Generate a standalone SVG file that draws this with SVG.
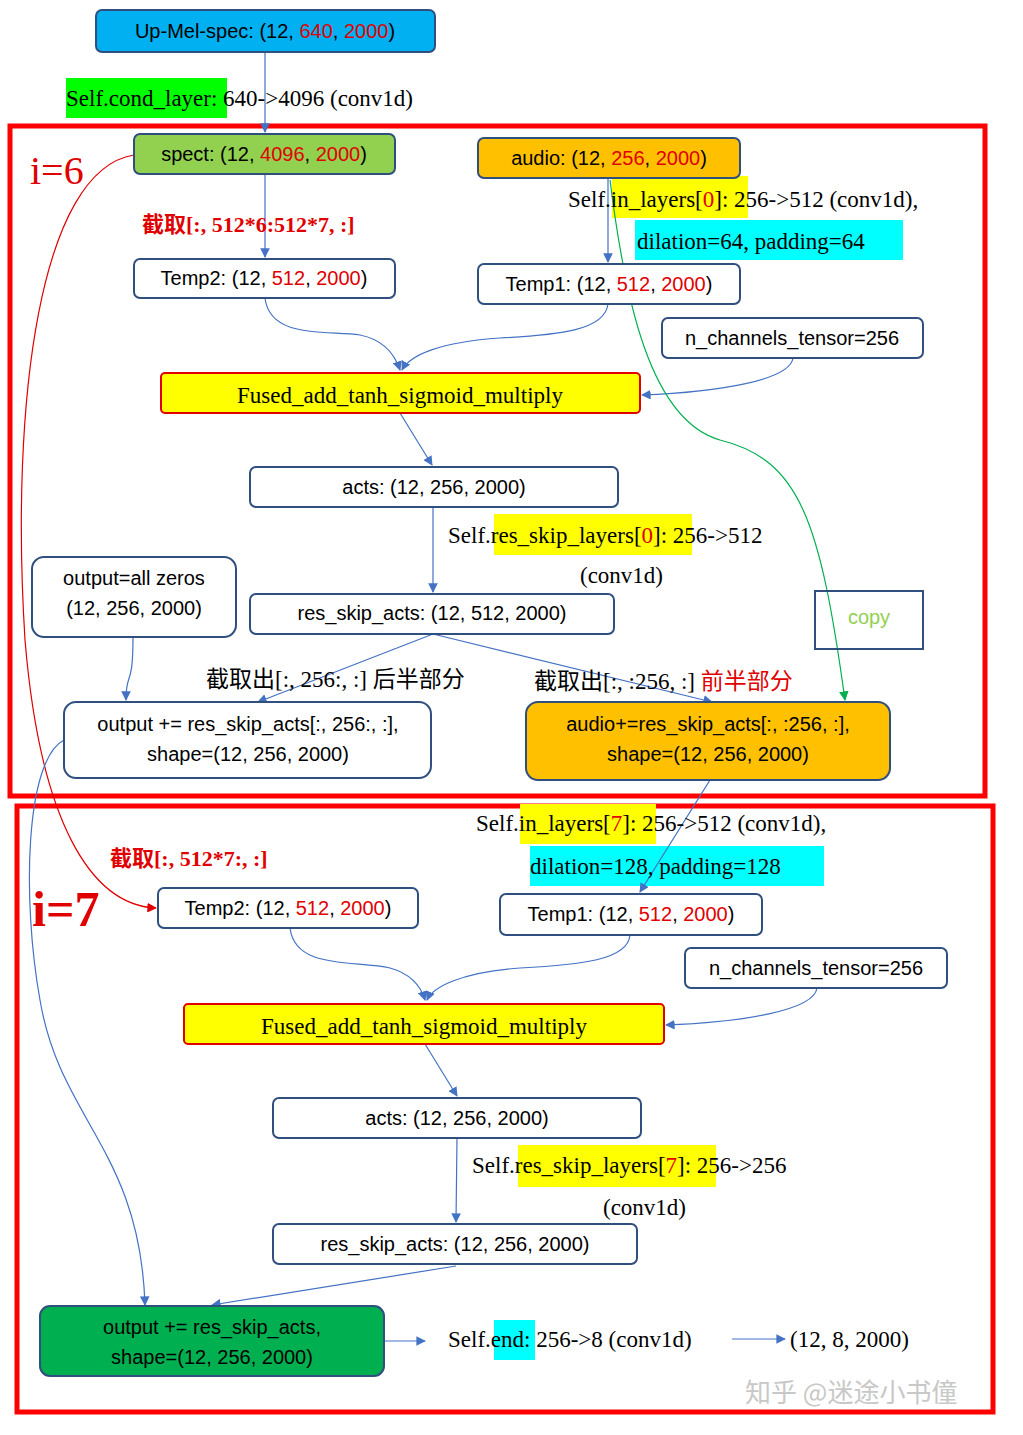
<svg xmlns="http://www.w3.org/2000/svg" width="1023" height="1435" viewBox="0 0 1023 1435">
<style>
.n{stroke:#2F4F7F;stroke-width:2}
.t{font-family:"Liberation Sans Narrow","Liberation Sans",sans-serif;font-size:20px;fill:#000;text-anchor:middle}
.s{font-family:"Liberation Serif","Noto Sans CJK SC",serif;font-size:23px;fill:#000}
.r{fill:#E00000}
.c{fill:none;stroke:#4472C4;stroke-width:1.2}
.frame{fill:none;stroke:#F00;stroke-width:5}
</style>
<defs>
<marker id="a" viewBox="0 0 10 10" refX="9" refY="5" markerWidth="8" markerHeight="8" orient="auto"><path d="M0,0L10,5L0,10z" fill="#4472C4"/></marker>
<marker id="g" viewBox="0 0 10 10" refX="9" refY="5" markerWidth="8" markerHeight="8" orient="auto"><path d="M0,0L10,5L0,10z" fill="#00B050"/></marker>
<marker id="rd" viewBox="0 0 10 10" refX="9" refY="5" markerWidth="8" markerHeight="8" orient="auto"><path d="M0,0L10,5L0,10z" fill="#E00000"/></marker>
</defs>
<rect width="1023" height="1435" fill="#fff"/>
<rect class="frame" x="10" y="126" width="975" height="670"/>
<rect class="frame" x="17" y="806" width="976" height="606"/>
<!-- highlights -->
<rect x="66" y="78" width="161" height="40" fill="#00FF00"/>
<rect x="612" y="176" width="136" height="42" fill="#FFFF00"/>
<rect x="635" y="220" width="268" height="40" fill="#00FFFF"/>
<rect x="494" y="514" width="198" height="41" fill="#FFFF00"/>
<rect x="520" y="804" width="136" height="40" fill="#FFFF00"/>
<rect x="530" y="846" width="294" height="40" fill="#00FFFF"/>
<rect x="518" y="1145" width="198" height="42" fill="#FFFF00"/>
<rect x="494" y="1320" width="41" height="40" fill="#00FFFF"/>
<g id="connectors">
<path class="c" d="M265,52V132" marker-end="url(#a)"/>
<path class="c" d="M265,174V257" marker-end="url(#a)"/>
<path class="c" d="M608,178V262" marker-end="url(#a)"/>
<path class="c" d="M265,298C270,340 330,330 360,335C385,340 395,355 400,370" marker-end="url(#a)"/>
<path class="c" d="M608,304C605,330 560,335 500,338C440,342 410,355 402,370" marker-end="url(#a)"/>
<path class="c" d="M793,358C790,380 720,392 642,395" marker-end="url(#a)"/>
<path class="c" d="M400,413L432,465" marker-end="url(#a)"/>
<path class="c" d="M433,507V592" marker-end="url(#a)"/>
<path class="c" d="M433,634L258,702" marker-end="url(#a)"/>
<path class="c" d="M433,634L712,702" marker-end="url(#a)"/>
<path class="c" d="M133,637C133,690 126,670 126,700" marker-end="url(#a)"/>
<path d="M610,180C625,300 650,420 720,440C800,460 820,520 845,700" fill="none" stroke="#00B050" stroke-width="1.2" marker-end="url(#g)"/>
<path d="M134,155C40,170 10,400 25,640C40,820 90,905 156,908" fill="none" stroke="#E00000" stroke-width="1.2" marker-end="url(#rd)"/>
<path class="c" d="M64,740C25,760 22,900 40,1000C60,1120 140,1150 145,1305" marker-end="url(#a)"/>
<path class="c" d="M710,780L640,892" marker-end="url(#a)"/>
<path class="c" d="M290,928C295,970 355,960 390,968C415,975 422,990 425,1000" marker-end="url(#a)"/>
<path class="c" d="M630,935C628,960 580,965 520,968C460,972 432,988 427,1000" marker-end="url(#a)"/>
<path class="c" d="M817,988C814,1010 745,1022 666,1025" marker-end="url(#a)"/>
<path class="c" d="M425,1044L457,1096" marker-end="url(#a)"/>
<path class="c" d="M457,1138L456,1222" marker-end="url(#a)"/>
<path class="c" d="M456,1266L212,1305" marker-end="url(#a)"/>
<path class="c" d="M384,1341H425" marker-end="url(#a)"/>
<path class="c" d="M732,1339H785" marker-end="url(#a)"/>
</g>
<g id="upmel"><rect class="n" x="96" y="10" width="339" height="42" rx="6" fill="#00B0F0"/><text class="t" x="265" y="38">Up-Mel-spec: (12, <tspan class="r">640</tspan>, <tspan class="r">2000</tspan>)</text></g>
<g id="spect"><rect class="n" x="134" y="134" width="261" height="40" rx="6" fill="#92D050"/><text class="t" x="264" y="161">spect: (12, <tspan class="r">4096</tspan>, <tspan class="r">2000</tspan>)</text></g>
<g id="audio"><rect class="n" x="478" y="138" width="262" height="40" rx="6" fill="#FFC000"/><text class="t" x="609" y="165">audio: (12, <tspan class="r">256</tspan>, <tspan class="r">2000</tspan>)</text></g>
<g id="temp2a"><rect class="n" x="134" y="259" width="261" height="39" rx="6" fill="#fff"/><text class="t" x="264" y="285">Temp2: (12, <tspan class="r">512</tspan>, <tspan class="r">2000</tspan>)</text></g>
<g id="temp1a"><rect class="n" x="478" y="264" width="262" height="40" rx="6" fill="#fff"/><text class="t" x="609" y="291">Temp1: (12, <tspan class="r">512</tspan>, <tspan class="r">2000</tspan>)</text></g>
<g id="ncha"><rect class="n" x="662" y="318" width="261" height="40" rx="6" fill="#fff"/><text class="t" x="792" y="345">n_channels_tensor=256</text></g>
<g id="fuseda"><rect x="161" y="373" width="479" height="40" rx="4" fill="#FFFF00" stroke="#E00000" stroke-width="2"/><text class="s" x="400" y="403" text-anchor="middle">Fused_add_tanh_sigmoid_multiply</text></g>
<g id="actsa"><rect class="n" x="250" y="467" width="368" height="40" rx="6" fill="#fff"/><text class="t" x="434" y="494">acts: (12, 256, 2000)</text></g>
<g id="zeros"><rect class="n" x="32" y="557" width="204" height="80" rx="12" fill="#fff"/><text class="t" x="134" y="585">output=all zeros</text><text class="t" x="134" y="615">(12, 256, 2000)</text></g>
<g id="rsa"><rect class="n" x="250" y="594" width="364" height="40" rx="6" fill="#fff"/><text class="t" x="432" y="620">res_skip_acts: (12, 512, 2000)</text></g>
<g id="copy"><rect x="815" y="591" width="108" height="58" fill="none" stroke="#2F4F7F" stroke-width="2"/><text class="t" x="869" y="624" fill="#92D050" style="fill:#92D050">copy</text></g>
<g id="outa"><rect class="n" x="64" y="702" width="367" height="76" rx="12" fill="#fff"/><text class="t" x="248" y="731">output += res_skip_acts[:, 256:, :],</text><text class="t" x="248" y="761">shape=(12, 256, 2000)</text></g>
<g id="audioa"><rect class="n" x="526" y="702" width="364" height="78" rx="12" fill="#FFC000"/><text class="t" x="708" y="731">audio+=res_skip_acts[:, :256, :],</text><text class="t" x="708" y="761">shape=(12, 256, 2000)</text></g>
<g id="temp2b"><rect class="n" x="158" y="888" width="260" height="40" rx="6" fill="#fff"/><text class="t" x="288" y="915">Temp2: (12, <tspan class="r">512</tspan>, <tspan class="r">2000</tspan>)</text></g>
<g id="temp1b"><rect class="n" x="500" y="894" width="262" height="41" rx="6" fill="#fff"/><text class="t" x="631" y="921">Temp1: (12, <tspan class="r">512</tspan>, <tspan class="r">2000</tspan>)</text></g>
<g id="nchb"><rect class="n" x="685" y="948" width="262" height="40" rx="6" fill="#fff"/><text class="t" x="816" y="975">n_channels_tensor=256</text></g>
<g id="fusedb"><rect x="184" y="1004" width="480" height="40" rx="4" fill="#FFFF00" stroke="#E00000" stroke-width="2"/><text class="s" x="424" y="1034" text-anchor="middle">Fused_add_tanh_sigmoid_multiply</text></g>
<g id="actsb"><rect class="n" x="273" y="1098" width="368" height="40" rx="6" fill="#fff"/><text class="t" x="457" y="1125">acts: (12, 256, 2000)</text></g>
<g id="rsb"><rect class="n" x="273" y="1224" width="364" height="40" rx="6" fill="#fff"/><text class="t" x="455" y="1251">res_skip_acts: (12, 256, 2000)</text></g>
<g id="outb"><rect class="n" x="40" y="1306" width="344" height="70" rx="10" fill="#00B050"/><text class="t" x="212" y="1334">output += res_skip_acts,</text><text class="t" x="212" y="1364">shape=(12, 256, 2000)</text></g>
<!-- labels -->
<text class="s" x="66" y="106">Self.cond_layer: 640-&gt;4096 (conv1d)</text>
<text class="s" x="30" y="184" style="font-size:40px;fill:#E00000">i=6</text>
<text class="s" x="568" y="207">Self.in_layers[<tspan class="r">0</tspan>]: 256-&gt;512 (conv1d),</text>
<text class="s" x="637" y="249">dilation=64, padding=64</text>
<text class="s" x="142" y="232" style="fill:#E00000;font-weight:bold;font-size:22px">截取[:, 512*6:512*7, :]</text>
<text class="s" x="448" y="543">Self.res_skip_layers[<tspan class="r">0</tspan>]: 256-&gt;512</text>
<text class="s" x="580" y="583">(conv1d)</text>
<text class="s" x="206" y="687">截取出[:, 256:, :] 后半部分</text>
<text class="s" x="534" y="689">截取出[:, :256, :] <tspan class="r">前半部分</tspan></text>
<text class="s" x="476" y="831">Self.in_layers[<tspan class="r">7</tspan>]: 256-&gt;512 (conv1d),</text>
<text class="s" x="530" y="874">dilation=128, padding=128</text>
<text class="s" x="110" y="866" style="fill:#E00000;font-weight:bold;font-size:22px">截取[:, 512*7:, :]</text>
<text class="s" x="32" y="926" style="font-size:50px;fill:#E00000;font-weight:bold">i=7</text>
<text class="s" x="472" y="1173">Self.res_skip_layers[<tspan class="r">7</tspan>]: 256-&gt;256</text>
<text class="s" x="603" y="1215">(conv1d)</text>
<text class="s" x="448" y="1347">Self.end: 256-&gt;8 (conv1d)</text>
<text class="s" x="790" y="1347">(12, 8, 2000)</text>
<text x="745" y="1402" style="font-family:'Noto Sans CJK SC',sans-serif;font-size:26px;fill:#C8C8C8">知乎 @迷途小书僮</text>
</svg>
